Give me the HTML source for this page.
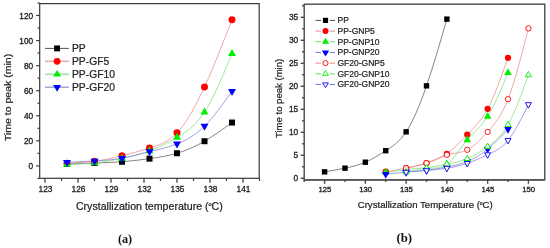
<!DOCTYPE html>
<html><head><meta charset="utf-8"><style>
html,body{margin:0;padding:0;background:#fff;}
body{width:550px;height:248px;overflow:hidden;font-family:"Liberation Sans", sans-serif;}
svg{display:block;will-change:transform;}
</style></head><body>
<svg width="550" height="248" viewBox="0 0 550 248"><g fill="none" stroke="#383838" stroke-width="1.2">
<rect x="39.70" y="3.60" width="219.50" height="174.70"/>
<line x1="45.00" y1="178.30" x2="45.00" y2="182.70"/>
<line x1="61.50" y1="178.30" x2="61.50" y2="180.90"/>
<line x1="78.00" y1="178.30" x2="78.00" y2="182.70"/>
<line x1="94.50" y1="178.30" x2="94.50" y2="180.90"/>
<line x1="111.00" y1="178.30" x2="111.00" y2="182.70"/>
<line x1="127.50" y1="178.30" x2="127.50" y2="180.90"/>
<line x1="144.00" y1="178.30" x2="144.00" y2="182.70"/>
<line x1="160.50" y1="178.30" x2="160.50" y2="180.90"/>
<line x1="177.00" y1="178.30" x2="177.00" y2="182.70"/>
<line x1="193.50" y1="178.30" x2="193.50" y2="180.90"/>
<line x1="210.00" y1="178.30" x2="210.00" y2="182.70"/>
<line x1="226.50" y1="178.30" x2="226.50" y2="180.90"/>
<line x1="243.00" y1="178.30" x2="243.00" y2="182.70"/>
<line x1="259.50" y1="178.30" x2="259.50" y2="180.90"/>
<line x1="37.50" y1="178.43" x2="39.70" y2="178.43"/>
<line x1="36.20" y1="165.90" x2="39.70" y2="165.90"/>
<line x1="37.50" y1="153.37" x2="39.70" y2="153.37"/>
<line x1="36.20" y1="140.83" x2="39.70" y2="140.83"/>
<line x1="37.50" y1="128.30" x2="39.70" y2="128.30"/>
<line x1="36.20" y1="115.77" x2="39.70" y2="115.77"/>
<line x1="37.50" y1="103.23" x2="39.70" y2="103.23"/>
<line x1="36.20" y1="90.70" x2="39.70" y2="90.70"/>
<line x1="37.50" y1="78.17" x2="39.70" y2="78.17"/>
<line x1="36.20" y1="65.64" x2="39.70" y2="65.64"/>
<line x1="37.50" y1="53.10" x2="39.70" y2="53.10"/>
<line x1="36.20" y1="40.57" x2="39.70" y2="40.57"/>
<line x1="37.50" y1="28.04" x2="39.70" y2="28.04"/>
<line x1="36.20" y1="15.50" x2="39.70" y2="15.50"/>
<line x1="37.50" y1="2.97" x2="39.70" y2="2.97"/>
</g>
<g font-family="Liberation Sans, sans-serif" font-size="8.3" fill="#222222" stroke="#222222" stroke-width="0.32">
<text x="45.50" y="192" text-anchor="middle">123</text>
<text x="78.50" y="192" text-anchor="middle">126</text>
<text x="111.50" y="192" text-anchor="middle">129</text>
<text x="144.50" y="192" text-anchor="middle">132</text>
<text x="177.50" y="192" text-anchor="middle">135</text>
<text x="210.50" y="192" text-anchor="middle">138</text>
<text x="243.50" y="192" text-anchor="middle">141</text>
<text x="33.2" y="168.90" text-anchor="end">0</text>
<text x="33.2" y="143.83" text-anchor="end">20</text>
<text x="33.2" y="118.77" text-anchor="end">40</text>
<text x="33.2" y="93.70" text-anchor="end">60</text>
<text x="33.2" y="68.64" text-anchor="end">80</text>
<text x="33.2" y="43.57" text-anchor="end">100</text>
<text x="33.2" y="18.50" text-anchor="end">120</text>
</g>
<path d="M67.00 164.02 C76.17 163.67 85.33 163.32 94.50 163.02 C103.67 162.72 112.83 162.47 122.00 161.76 C131.17 161.06 140.33 159.91 149.50 158.63 C158.67 157.35 167.83 155.94 177.00 153.24 C186.17 150.54 195.33 146.54 204.50 141.21 C213.67 135.88 222.83 129.21 232.00 122.54" fill="none" stroke="#505050" stroke-width="0.7"/>
<path d="M67.00 163.14 C76.17 162.80 85.33 162.45 94.50 161.26 C103.67 160.08 112.83 158.05 122.00 155.75 C131.17 153.44 140.33 150.86 149.50 148.10 C158.67 145.35 167.83 142.43 177.00 132.81 C186.17 123.20 195.33 106.90 204.50 86.94 C213.67 66.99 222.83 43.38 232.00 19.77" fill="none" stroke="#ee8080" stroke-width="0.7"/>
<path d="M67.00 164.43 C76.17 164.18 85.33 163.92 94.50 162.93 C103.67 161.94 112.83 160.21 122.00 158.29 C131.17 156.38 140.33 154.29 149.50 150.90 C158.67 147.51 167.83 142.83 177.00 137.49 C186.17 132.14 195.33 126.13 204.50 112.05 C213.67 97.96 222.83 75.80 232.00 53.64" fill="none" stroke="#70dd70" stroke-width="0.7"/>
<path d="M67.00 162.23 C76.17 161.85 85.33 161.48 94.50 160.97 C103.67 160.47 112.83 159.84 122.00 158.22 C131.17 156.59 140.33 153.97 149.50 151.70 C158.67 149.42 167.83 147.49 177.00 143.93 C186.17 140.37 195.33 135.18 204.50 126.13 C213.67 117.09 222.83 104.19 232.00 91.29" fill="none" stroke="#7878dd" stroke-width="0.7"/>
<rect x="64.00" y="161.02" width="6.00" height="6.00" fill="#000000"/>
<rect x="91.50" y="160.02" width="6.00" height="6.00" fill="#000000"/>
<rect x="119.00" y="158.76" width="6.00" height="6.00" fill="#000000"/>
<rect x="146.50" y="155.63" width="6.00" height="6.00" fill="#000000"/>
<rect x="174.00" y="150.24" width="6.00" height="6.00" fill="#000000"/>
<rect x="201.50" y="138.21" width="6.00" height="6.00" fill="#000000"/>
<rect x="229.00" y="119.54" width="6.00" height="6.00" fill="#000000"/>
<circle cx="67.00" cy="163.14" r="3.48" fill="#ff0000"/>
<circle cx="94.50" cy="161.26" r="3.48" fill="#ff0000"/>
<circle cx="122.00" cy="155.75" r="3.48" fill="#ff0000"/>
<circle cx="149.50" cy="148.10" r="3.48" fill="#ff0000"/>
<circle cx="177.00" cy="132.81" r="3.48" fill="#ff0000"/>
<circle cx="204.50" cy="86.94" r="3.48" fill="#ff0000"/>
<circle cx="232.00" cy="19.77" r="3.48" fill="#ff0000"/>
<path d="M67.00 159.77 L71.00 166.77 L63.00 166.77 Z" fill="#00ee00"/>
<path d="M94.50 158.26 L98.50 165.26 L90.50 165.26 Z" fill="#00ee00"/>
<path d="M122.00 153.63 L126.00 160.63 L118.00 160.63 Z" fill="#00ee00"/>
<path d="M149.50 146.23 L153.50 153.23 L145.50 153.23 Z" fill="#00ee00"/>
<path d="M177.00 132.82 L181.00 139.82 L173.00 139.82 Z" fill="#00ee00"/>
<path d="M204.50 107.38 L208.50 114.38 L200.50 114.38 Z" fill="#00ee00"/>
<path d="M232.00 48.98 L236.00 55.98 L228.00 55.98 Z" fill="#00ee00"/>
<path d="M67.00 166.89 L71.00 159.89 L63.00 159.89 Z" fill="#0000ff"/>
<path d="M94.50 165.64 L98.50 158.64 L90.50 158.64 Z" fill="#0000ff"/>
<path d="M122.00 162.88 L126.00 155.88 L118.00 155.88 Z" fill="#0000ff"/>
<path d="M149.50 156.37 L153.50 149.37 L145.50 149.37 Z" fill="#0000ff"/>
<path d="M177.00 148.60 L181.00 141.60 L173.00 141.60 Z" fill="#0000ff"/>
<path d="M204.50 130.80 L208.50 123.80 L200.50 123.80 Z" fill="#0000ff"/>
<path d="M232.00 95.96 L236.00 88.96 L228.00 88.96 Z" fill="#0000ff"/>
<line x1="45" y1="48.40" x2="68.8" y2="48.40" stroke="#555555" stroke-width="1.00"/>
<rect x="54.15" y="45.45" width="5.90" height="5.90" fill="#000000"/>
<text transform="translate(72 51.70) scale(1 1.000)" font-family="Liberation Sans, sans-serif" font-size="10.3" fill="#222222" stroke="#222222" stroke-width="0.22">PP</text>
<line x1="45" y1="61.35" x2="68.8" y2="61.35" stroke="#e3aaaa" stroke-width="1.50"/>
<circle cx="57.10" cy="61.35" r="3.42" fill="#ff0000"/>
<text transform="translate(72 64.65) scale(1 1.000)" font-family="Liberation Sans, sans-serif" font-size="10.3" fill="#222222" stroke="#222222" stroke-width="0.22">PP-GF5</text>
<line x1="45" y1="74.30" x2="68.8" y2="74.30" stroke="#9ee09e" stroke-width="1.50"/>
<path d="M57.10 69.90 L61.05 76.50 L53.15 76.50 Z" fill="#00ee00"/>
<text transform="translate(72 77.60) scale(1 1.000)" font-family="Liberation Sans, sans-serif" font-size="10.3" fill="#222222" stroke="#222222" stroke-width="0.22">PP-GF10</text>
<line x1="45" y1="87.25" x2="68.8" y2="87.25" stroke="#a4a4d8" stroke-width="1.50"/>
<path d="M57.10 91.65 L61.05 85.05 L53.15 85.05 Z" fill="#0000ff"/>
<text transform="translate(72 90.55) scale(1 1.000)" font-family="Liberation Sans, sans-serif" font-size="10.3" fill="#222222" stroke="#222222" stroke-width="0.22">PP-GF20</text>
<text transform="translate(11.3 97.5) rotate(-90) scale(1 0.9)" text-anchor="middle" font-family="Liberation Sans, sans-serif" font-size="10.55" fill="#222222" stroke="#222222" stroke-width="0.22">Time to peak (min)</text>
<text transform="translate(149.3 209.6) scale(1 1.000)" x="0" y="0" text-anchor="middle" font-family="Liberation Sans, sans-serif" font-size="10.62" fill="#222222" stroke="#222222" stroke-width="0.22">Crystallization temperature (<tspan font-size="5.6" dx="-0.1" dy="-4.0">o</tspan><tspan dx="-0.1" dy="4.0">C)</tspan></text>
<text x="125" y="243" text-anchor="middle" font-family="Liberation Serif, serif" font-weight="bold" font-size="12.2" fill="#111">(a)</text>
<g fill="none" stroke="#4a4a4a" stroke-width="1.4">
<rect x="304.20" y="4.20" width="240.60" height="175.60"/>
<line x1="304.20" y1="179.90" x2="544.80" y2="179.90" stroke-width="1.6" stroke="#555"/>
<line x1="304.22" y1="179.80" x2="304.22" y2="182.00"/>
<line x1="324.60" y1="179.80" x2="324.60" y2="183.80"/>
<line x1="344.98" y1="179.80" x2="344.98" y2="182.00"/>
<line x1="365.36" y1="179.80" x2="365.36" y2="183.80"/>
<line x1="385.74" y1="179.80" x2="385.74" y2="182.00"/>
<line x1="406.12" y1="179.80" x2="406.12" y2="183.80"/>
<line x1="426.50" y1="179.80" x2="426.50" y2="182.00"/>
<line x1="446.88" y1="179.80" x2="446.88" y2="183.80"/>
<line x1="467.26" y1="179.80" x2="467.26" y2="182.00"/>
<line x1="487.64" y1="179.80" x2="487.64" y2="183.80"/>
<line x1="508.02" y1="179.80" x2="508.02" y2="182.00"/>
<line x1="528.40" y1="179.80" x2="528.40" y2="183.80"/>
<line x1="300.70" y1="178.30" x2="304.20" y2="178.30"/>
<line x1="302.00" y1="166.80" x2="304.20" y2="166.80"/>
<line x1="300.70" y1="155.30" x2="304.20" y2="155.30"/>
<line x1="302.00" y1="143.80" x2="304.20" y2="143.80"/>
<line x1="300.70" y1="132.30" x2="304.20" y2="132.30"/>
<line x1="302.00" y1="120.80" x2="304.20" y2="120.80"/>
<line x1="300.70" y1="109.30" x2="304.20" y2="109.30"/>
<line x1="302.00" y1="97.80" x2="304.20" y2="97.80"/>
<line x1="300.70" y1="86.30" x2="304.20" y2="86.30"/>
<line x1="302.00" y1="74.80" x2="304.20" y2="74.80"/>
<line x1="300.70" y1="63.30" x2="304.20" y2="63.30"/>
<line x1="302.00" y1="51.80" x2="304.20" y2="51.80"/>
<line x1="300.70" y1="40.30" x2="304.20" y2="40.30"/>
<line x1="302.00" y1="28.80" x2="304.20" y2="28.80"/>
<line x1="300.70" y1="17.30" x2="304.20" y2="17.30"/>
<line x1="302.00" y1="5.80" x2="304.20" y2="5.80"/>
</g>
<g font-family="Liberation Sans, sans-serif" font-size="8.3" fill="#222222" stroke="#222222" stroke-width="0.32">
<text transform="translate(324.80 192.2) scale(1 1.03)" font-size="7.7" text-anchor="middle">125</text>
<text transform="translate(365.56 192.2) scale(1 1.03)" font-size="7.7" text-anchor="middle">130</text>
<text transform="translate(406.32 192.2) scale(1 1.03)" font-size="7.7" text-anchor="middle">135</text>
<text transform="translate(447.08 192.2) scale(1 1.03)" font-size="7.7" text-anchor="middle">140</text>
<text transform="translate(487.84 192.2) scale(1 1.03)" font-size="7.7" text-anchor="middle">145</text>
<text transform="translate(528.60 192.2) scale(1 1.03)" font-size="7.7" text-anchor="middle">150</text>
<text x="298.2" y="181.30" text-anchor="end">0</text>
<text x="298.2" y="158.30" text-anchor="end">5</text>
<text x="298.2" y="135.30" text-anchor="end">10</text>
<text x="298.2" y="112.30" text-anchor="end">15</text>
<text x="298.2" y="89.30" text-anchor="end">20</text>
<text x="298.2" y="66.30" text-anchor="end">25</text>
<text x="298.2" y="43.30" text-anchor="end">30</text>
<text x="298.2" y="20.30" text-anchor="end">35</text>
</g>
<path d="M324.60 171.86 C331.39 170.72 338.19 169.57 344.98 168.18 C351.77 166.79 358.57 165.15 365.36 162.20 C372.15 159.25 378.95 155.00 385.74 150.70 C392.53 146.40 399.33 142.04 406.12 131.84 C412.91 121.64 419.71 105.60 426.50 85.84 C433.29 66.08 440.09 42.61 446.88 19.14" fill="none" stroke="#505050" stroke-width="0.7"/>
<path d="M385.74 171.63 C392.53 170.59 399.33 169.55 406.12 168.18 C412.91 166.81 419.71 165.11 426.50 163.12 C433.29 161.13 440.09 158.83 446.88 153.92 C453.67 149.01 460.47 141.47 467.26 134.60 C474.05 127.73 480.85 121.53 487.64 108.84 C494.43 96.15 501.23 76.96 508.02 57.78" fill="none" stroke="#ee8080" stroke-width="0.7"/>
<path d="M385.74 172.30 C392.53 171.50 399.33 170.69 406.12 169.77 C412.91 168.86 419.71 167.83 426.50 167.93 C433.29 168.04 440.09 169.29 446.88 164.25 C453.67 159.22 460.47 147.91 467.26 139.87 C474.05 131.83 480.85 127.06 487.64 116.41 C494.43 105.76 501.23 89.24 508.02 72.71" fill="none" stroke="#70dd70" stroke-width="0.7"/>
<path d="M385.74 174.18 C392.53 173.44 399.33 172.70 406.12 172.11 C412.91 171.51 419.71 171.06 426.50 170.27 C433.29 169.47 440.09 168.34 446.88 167.05 C453.67 165.75 460.47 164.29 467.26 161.53 C474.05 158.76 480.85 154.69 487.64 149.11 C494.43 143.52 501.23 136.42 508.02 129.33" fill="none" stroke="#7878dd" stroke-width="0.7"/>
<path d="M406.12 168.18 C412.91 166.93 419.71 165.68 426.50 163.12 C433.29 160.56 440.09 156.68 446.88 154.84 C453.67 153.00 460.47 153.20 467.26 149.78 C474.05 146.36 480.85 139.30 487.64 131.84 C494.43 124.38 501.23 116.50 508.02 99.18 C514.81 81.86 521.61 55.10 528.40 28.34" fill="none" stroke="#ee8080" stroke-width="0.7"/>
<path d="M406.12 172.07 C412.91 170.64 419.71 169.21 426.50 167.93 C433.29 166.65 440.09 165.52 446.88 164.25 C453.67 162.99 460.47 161.59 467.26 158.73 C474.05 155.88 480.85 151.56 487.64 146.77 C494.43 141.99 501.23 136.73 508.02 124.69 C514.81 112.66 521.61 93.83 528.40 75.01" fill="none" stroke="#70dd70" stroke-width="0.7"/>
<path d="M406.12 172.11 C412.91 171.60 419.71 171.09 426.50 170.50 C433.29 169.91 440.09 169.24 446.88 168.20 C453.67 167.15 460.47 165.73 467.26 163.37 C474.05 161.01 480.85 157.71 487.64 154.63 C494.43 151.55 501.23 148.69 508.02 140.37 C514.81 132.05 521.61 118.27 528.40 104.49" fill="none" stroke="#7878dd" stroke-width="0.7"/>
<rect x="321.90" y="169.16" width="5.40" height="5.40" fill="#000000"/>
<rect x="342.28" y="165.48" width="5.40" height="5.40" fill="#000000"/>
<rect x="362.66" y="159.50" width="5.40" height="5.40" fill="#000000"/>
<rect x="383.04" y="148.00" width="5.40" height="5.40" fill="#000000"/>
<rect x="403.42" y="129.14" width="5.40" height="5.40" fill="#000000"/>
<rect x="423.80" y="83.14" width="5.40" height="5.40" fill="#000000"/>
<rect x="444.18" y="16.44" width="5.40" height="5.40" fill="#000000"/>
<circle cx="385.74" cy="171.63" r="3.13" fill="#ff0000"/>
<circle cx="406.12" cy="168.18" r="3.13" fill="#ff0000"/>
<circle cx="426.50" cy="163.12" r="3.13" fill="#ff0000"/>
<circle cx="446.88" cy="153.92" r="3.13" fill="#ff0000"/>
<circle cx="467.26" cy="134.60" r="3.13" fill="#ff0000"/>
<circle cx="487.64" cy="108.84" r="3.13" fill="#ff0000"/>
<circle cx="508.02" cy="57.78" r="3.13" fill="#ff0000"/>
<path d="M385.74 167.77 L389.54 174.57 L381.94 174.57 Z" fill="#00ee00"/>
<path d="M406.12 165.24 L409.92 172.04 L402.32 172.04 Z" fill="#00ee00"/>
<path d="M426.50 163.40 L430.30 170.20 L422.70 170.20 Z" fill="#00ee00"/>
<path d="M446.88 159.72 L450.68 166.52 L443.08 166.52 Z" fill="#00ee00"/>
<path d="M467.26 135.34 L471.06 142.14 L463.46 142.14 Z" fill="#00ee00"/>
<path d="M487.64 111.88 L491.44 118.68 L483.84 118.68 Z" fill="#00ee00"/>
<path d="M508.02 68.18 L511.82 74.98 L504.22 74.98 Z" fill="#00ee00"/>
<path d="M385.74 178.71 L389.54 171.91 L381.94 171.91 Z" fill="#0000ff"/>
<path d="M406.12 176.64 L409.92 169.84 L402.32 169.84 Z" fill="#0000ff"/>
<path d="M426.50 174.80 L430.30 168.00 L422.70 168.00 Z" fill="#0000ff"/>
<path d="M446.88 171.58 L450.68 164.78 L443.08 164.78 Z" fill="#0000ff"/>
<path d="M467.26 166.06 L471.06 159.26 L463.46 159.26 Z" fill="#0000ff"/>
<path d="M487.64 153.64 L491.44 146.84 L483.84 146.84 Z" fill="#0000ff"/>
<path d="M508.02 133.86 L511.82 127.06 L504.22 127.06 Z" fill="#0000ff"/>
<circle cx="406.12" cy="168.18" r="2.68" fill="#fff" stroke="#ff0000" stroke-width="0.90"/>
<circle cx="426.50" cy="163.12" r="2.68" fill="#fff" stroke="#ff0000" stroke-width="0.90"/>
<circle cx="446.88" cy="154.84" r="2.68" fill="#fff" stroke="#ff0000" stroke-width="0.90"/>
<circle cx="467.26" cy="149.78" r="2.68" fill="#fff" stroke="#ff0000" stroke-width="0.90"/>
<circle cx="487.64" cy="131.84" r="2.68" fill="#fff" stroke="#ff0000" stroke-width="0.90"/>
<circle cx="508.02" cy="99.18" r="2.68" fill="#fff" stroke="#ff0000" stroke-width="0.90"/>
<circle cx="528.40" cy="28.34" r="2.68" fill="#fff" stroke="#ff0000" stroke-width="0.90"/>
<path d="M406.12 168.44 L409.11 173.89 L403.13 173.89 Z" fill="#fff" stroke="#00ee00" stroke-width="0.90"/>
<path d="M426.50 164.30 L429.49 169.75 L423.51 169.75 Z" fill="#fff" stroke="#00ee00" stroke-width="0.90"/>
<path d="M446.88 160.62 L449.87 166.07 L443.89 166.07 Z" fill="#fff" stroke="#00ee00" stroke-width="0.90"/>
<path d="M467.26 155.10 L470.25 160.55 L464.27 160.55 Z" fill="#fff" stroke="#00ee00" stroke-width="0.90"/>
<path d="M487.64 143.14 L490.63 148.59 L484.65 148.59 Z" fill="#fff" stroke="#00ee00" stroke-width="0.90"/>
<path d="M508.02 121.06 L511.01 126.51 L505.03 126.51 Z" fill="#fff" stroke="#00ee00" stroke-width="0.90"/>
<path d="M528.40 71.38 L531.39 76.83 L525.41 76.83 Z" fill="#fff" stroke="#00ee00" stroke-width="0.90"/>
<path d="M406.12 175.74 L409.11 170.29 L403.13 170.29 Z" fill="#fff" stroke="#0000ff" stroke-width="0.90"/>
<path d="M426.50 174.13 L429.49 168.68 L423.51 168.68 Z" fill="#fff" stroke="#0000ff" stroke-width="0.90"/>
<path d="M446.88 171.83 L449.87 166.38 L443.89 166.38 Z" fill="#fff" stroke="#0000ff" stroke-width="0.90"/>
<path d="M467.26 167.00 L470.25 161.55 L464.27 161.55 Z" fill="#fff" stroke="#0000ff" stroke-width="0.90"/>
<path d="M487.64 158.26 L490.63 152.81 L484.65 152.81 Z" fill="#fff" stroke="#0000ff" stroke-width="0.90"/>
<path d="M508.02 144.00 L511.01 138.55 L505.03 138.55 Z" fill="#fff" stroke="#0000ff" stroke-width="0.90"/>
<path d="M528.40 108.12 L531.39 102.67 L525.41 102.67 Z" fill="#fff" stroke="#0000ff" stroke-width="0.90"/>
<line x1="315.5" y1="20.40" x2="321" y2="20.40" stroke="#505050" stroke-width="1.0"/>
<line x1="329.8" y1="20.40" x2="335" y2="20.40" stroke="#505050" stroke-width="1.0"/>
<rect x="322.90" y="17.80" width="5.20" height="5.20" fill="#000000"/>
<text transform="translate(337.5 23.40) scale(1 1.000)" font-family="Liberation Sans, sans-serif" font-size="8.5" fill="#222222" stroke="#222222" stroke-width="0.22">PP</text>
<line x1="315.5" y1="31.08" x2="321" y2="31.08" stroke="#ee8080" stroke-width="1.0"/>
<line x1="329.8" y1="31.08" x2="335" y2="31.08" stroke="#ee8080" stroke-width="1.0"/>
<circle cx="325.50" cy="31.08" r="3.02" fill="#ff0000"/>
<text transform="translate(337.5 34.08) scale(1 1.000)" font-family="Liberation Sans, sans-serif" font-size="8.5" fill="#222222" stroke="#222222" stroke-width="0.22">PP-GNP5</text>
<line x1="315.5" y1="41.76" x2="321" y2="41.76" stroke="#70dd70" stroke-width="1.0"/>
<line x1="329.8" y1="41.76" x2="335" y2="41.76" stroke="#70dd70" stroke-width="1.0"/>
<path d="M325.50 37.76 L329.20 43.76 L321.80 43.76 Z" fill="#00ee00"/>
<text transform="translate(337.5 44.76) scale(1 1.000)" font-family="Liberation Sans, sans-serif" font-size="8.5" fill="#222222" stroke="#222222" stroke-width="0.22">PP-GNP10</text>
<line x1="315.5" y1="52.44" x2="321" y2="52.44" stroke="#7878dd" stroke-width="1.0"/>
<line x1="329.8" y1="52.44" x2="335" y2="52.44" stroke="#7878dd" stroke-width="1.0"/>
<path d="M325.50 56.44 L329.20 50.44 L321.80 50.44 Z" fill="#0000ff"/>
<text transform="translate(337.5 55.44) scale(1 1.000)" font-family="Liberation Sans, sans-serif" font-size="8.5" fill="#222222" stroke="#222222" stroke-width="0.22">PP-GNP20</text>
<line x1="315.5" y1="63.12" x2="321" y2="63.12" stroke="#ee8080" stroke-width="1.0"/>
<line x1="329.8" y1="63.12" x2="335" y2="63.12" stroke="#ee8080" stroke-width="1.0"/>
<circle cx="325.50" cy="63.12" r="2.57" fill="#fff" stroke="#ff0000" stroke-width="0.90"/>
<text transform="translate(337.5 66.12) scale(1 1.000)" font-family="Liberation Sans, sans-serif" font-size="8.5" fill="#222222" stroke="#222222" stroke-width="0.22">GF20-GNP5</text>
<line x1="315.5" y1="73.80" x2="321" y2="73.80" stroke="#70dd70" stroke-width="1.0"/>
<line x1="329.8" y1="73.80" x2="335" y2="73.80" stroke="#70dd70" stroke-width="1.0"/>
<path d="M325.50 70.70 L328.39 75.35 L322.61 75.35 Z" fill="#fff" stroke="#00ee00" stroke-width="0.90"/>
<text transform="translate(337.5 76.80) scale(1 1.000)" font-family="Liberation Sans, sans-serif" font-size="8.5" fill="#222222" stroke="#222222" stroke-width="0.22">GF20-GNP10</text>
<line x1="315.5" y1="84.48" x2="321" y2="84.48" stroke="#7878dd" stroke-width="1.0"/>
<line x1="329.8" y1="84.48" x2="335" y2="84.48" stroke="#7878dd" stroke-width="1.0"/>
<path d="M325.50 87.58 L328.39 82.93 L322.61 82.93 Z" fill="#fff" stroke="#0000ff" stroke-width="0.90"/>
<text transform="translate(337.5 87.48) scale(1 1.000)" font-family="Liberation Sans, sans-serif" font-size="8.5" fill="#222222" stroke="#222222" stroke-width="0.22">GF20-GNP20</text>
<text transform="translate(282.0 98.4) rotate(-90) scale(1 0.9)" text-anchor="middle" font-family="Liberation Sans, sans-serif" font-size="9.55" fill="#222222" stroke="#222222" stroke-width="0.22">Time to peak (min)</text>
<text transform="translate(425.2 208.2) scale(1 1.000)" x="0" y="0" text-anchor="middle" font-family="Liberation Sans, sans-serif" font-size="9.62" fill="#222222" stroke="#222222" stroke-width="0.22">Crystallization Temperature (<tspan font-size="5.2" dx="-0.1" dy="-3.7">o</tspan><tspan dx="-0.1" dy="3.7">C)</tspan></text>
<text x="404.3" y="242.3" text-anchor="middle" font-family="Liberation Serif, serif" font-weight="bold" font-size="12.8" fill="#111">(b)</text></svg>
</body></html>
